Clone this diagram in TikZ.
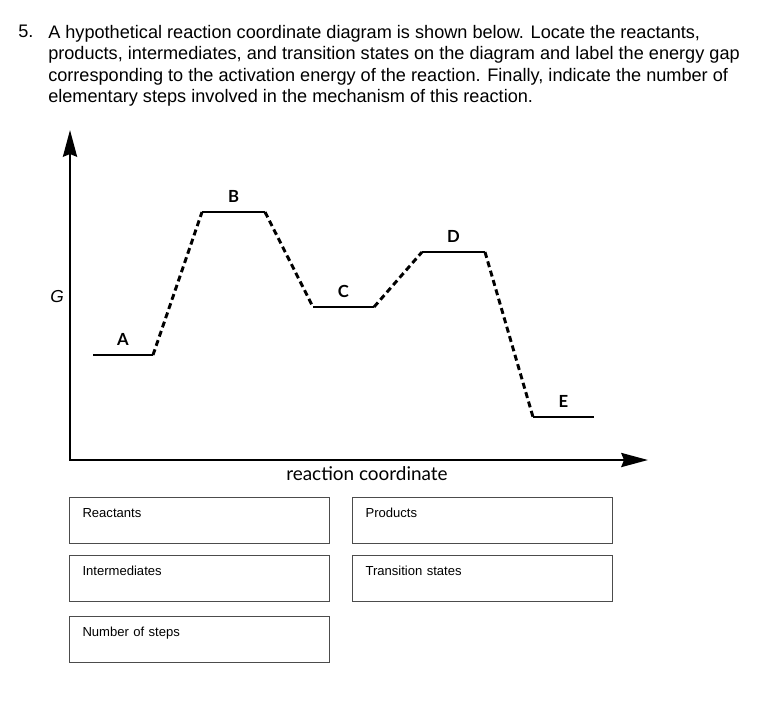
\documentclass[tikz,border=0pt]{standalone}
\usepackage{fontspec}
\setmainfont{Liberation Sans}
\newfontfamily\labelfont{Lato}
\usetikzlibrary{arrows.meta,positioning}
\tikzset{
  level/.style={line width=2pt},
  jump/.style={line width=2.2pt, dash pattern=on 4.5pt off 2.8pt},
  axis/.style={line width=2pt, {Stealth[length=20pt, width=10.5pt, inset=2pt]}-{Stealth[length=20pt, width=10.5pt, inset=2pt]}},
  statelabel/.style={font=\labelfont\bfseries\fontsize{12.5}{14}\selectfont, inner sep=0pt},
  answerbox/.style={draw=gray!60!black, line width=0.8pt, anchor=north west, align=left,
    inner xsep=9.75pt, inner ysep=0pt, text width=175.5pt, text height=15pt, text depth=19.5pt,
    font=\fontsize{9.8}{11}\selectfont},
  question/.style={align=left, inner sep=0pt, font=\fontsize{13.6}{16.1}\selectfont}
}
\begin{document}
\begin{tikzpicture}[x=0.75pt, y=-0.75pt]
  \useasboundingbox[fill=white] (0,0) rectangle (767,719);

  % question text
  \node[question, anchor=north west] (num) at (18,25) {5.};
  \node[question, anchor=north west] (qtext) at (48,25) {A hypothetical reaction coordinate diagram is shown below. Locate the reactants,\\
    products, intermediates, and transition states on the diagram and label the energy gap\\
    corresponding to the activation energy of the reaction. Finally, indicate the number of\\
    elementary steps involved in the mechanism of this reaction.};

  % axes
  \coordinate (ytop) at (70,130);
  \coordinate (xend) at (648,460);
  \draw[axis] (ytop) |- (xend);
  \node[font=\itshape\fontsize{13}{15}\selectfont] (glab) at (57,297) {G};
  \node[font=\labelfont\fontsize{14.2}{16}\selectfont, anchor=base] (xlab) at (367,480) {reaction coordinate};

  % energy levels
  \coordinate (a1) at (93,355);  \coordinate (a2) at (153,355);
  \coordinate (b1) at (202,212); \coordinate (b2) at (265,212);
  \coordinate (c1) at (313,307); \coordinate (c2) at (374,307);
  \coordinate (d1) at (422,252); \coordinate (d2) at (485,252);
  \coordinate (e1) at (533,417); \coordinate (e2) at (594,417);

  \draw[level] (a1) -- node[statelabel, above=6pt] (A) {A} (a2);
  \draw[level] (b1) -- node[statelabel, above=6pt] (B) {B} (b2);
  \draw[level] (c1) -- node[statelabel, above=6pt] (C) {C} (c2);
  \draw[level] (d1) -- node[statelabel, above=6pt] (D) {D} (d2);
  \draw[level] (e1) -- node[statelabel, above=6pt] (E) {E} (e2);

  \draw[jump] (a2) -- (b1);
  \draw[jump] (b2) -- (c1);
  \draw[jump] (c2) -- (d1);
  \draw[jump] (d2) -- (e1);

  % answer boxes
  \node[answerbox] (reac) at (69,497) {Reactants};
  \node[answerbox] (prod) at (352,497) {Products};
  \node[answerbox] (inter) at (69,555) {Intermediates};
  \node[answerbox] (trans) at (352,555) {Transition states};
  \node[answerbox] (nsteps) at (69,616) {Number of steps};
\end{tikzpicture}
\end{document}
